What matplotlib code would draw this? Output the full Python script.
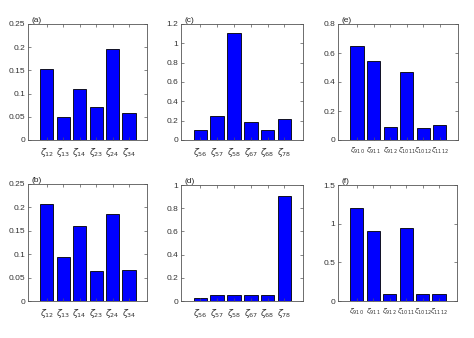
import matplotlib.pyplot as plt

plt.rcParams['font.family'] = ['Liberation Sans', 'DejaVu Sans']
plt.rcParams['mathtext.fontset'] = 'dejavusans'

labels_a = [r'$\zeta_{12}$', r'$\zeta_{13}$', r'$\zeta_{14}$', r'$\zeta_{23}$', r'$\zeta_{24}$', r'$\zeta_{34}$']
labels_c = [r'$\zeta_{56}$', r'$\zeta_{57}$', r'$\zeta_{58}$', r'$\zeta_{67}$', r'$\zeta_{68}$', r'$\zeta_{78}$']
labels_e = [r'$\zeta_{910}$', r'$\zeta_{911}$', r'$\zeta_{912}$', r'$\zeta_{1011}$', r'$\zeta_{1012}$', r'$\zeta_{1112}$']

vals_a = [0.152, 0.050, 0.110, 0.071, 0.197, 0.058]
vals_b = [0.208, 0.093, 0.160, 0.065, 0.186, 0.067]
vals_c = [0.107, 0.252, 1.103, 0.183, 0.100, 0.217]
vals_d = [0.026, 0.055, 0.052, 0.049, 0.049, 0.908]
vals_e = [0.647, 0.546, 0.090, 0.469, 0.086, 0.102]
vals_f = [1.206, 0.908, 0.091, 0.938, 0.091, 0.091]

ylim_a = (0, 0.25); yt_a = [0, 0.05, 0.1, 0.15, 0.2, 0.25]
ylim_c = (0, 1.2); yt_c = [0, 0.2, 0.4, 0.6, 0.8, 1, 1.2]
ylim_d = (0, 1.0); yt_d = [0, 0.2, 0.4, 0.6, 0.8, 1]
ylim_e = (0, 0.8); yt_e = [0, 0.2, 0.4, 0.6, 0.8]
ylim_f = (0, 1.5); yt_f = [0, 0.5, 1, 1.5]

fig = plt.figure(figsize=(4.74, 3.38), dpi=100)
W, H = 474.0, 338.0

# (left, top, right, bottom) in pixels, label size
panels = [
    ((28, 24, 147, 140), vals_a, labels_a, ylim_a, yt_a, '(a)', 6.5),
    ((181, 24, 303, 140), vals_c, labels_c, ylim_c, yt_c, '(c)', 6.5),
    ((338, 24, 458, 140), vals_e, labels_e, ylim_e, yt_e, '(e)', 5.0),
    ((28, 184, 147, 301), vals_b, labels_a, ylim_a, yt_a, '(b)', 6.5),
    ((181, 185, 303, 301), vals_d, labels_c, ylim_d, yt_d, '(d)', 6.5),
    ((338, 185, 457, 301), vals_f, labels_e, ylim_f, yt_f, '(f)', 5.0),
]

for (l, t, r, b), vals, labs, ylim, yt, tag, lsz in panels:
    ax = fig.add_axes([l / W, 1 - b / H, (r - l) / W, (b - t) / H])
    x = list(range(1, len(vals) + 1))
    ax.bar(x, vals, width=0.8, color='#0000ff', edgecolor='black', linewidth=0.6)
    ax.set_xlim(-0.15, 7.1)
    ax.set_ylim(*ylim)
    ax.set_yticks(yt)
    ax.set_yticklabels(['%g' % v for v in yt], fontsize=6)
    ax.set_xticks(x)
    ax.set_xticklabels(labs, fontsize=lsz)
    ax.tick_params(direction='in', length=2, width=0.5, top=True, right=True,
                   colors='#555555', labelcolor='#333333')
    ax.tick_params(axis='x', pad=4)
    ax.tick_params(axis='y', pad=2)
    for s in ax.spines.values():
        s.set_linewidth(0.6)
        s.set_color('#555555')
    ax.text(0.03, 1.0, tag, transform=ax.transAxes, fontsize=6, va='bottom', ha='left', color='#222222')

fig.savefig('out.png', dpi=100)
